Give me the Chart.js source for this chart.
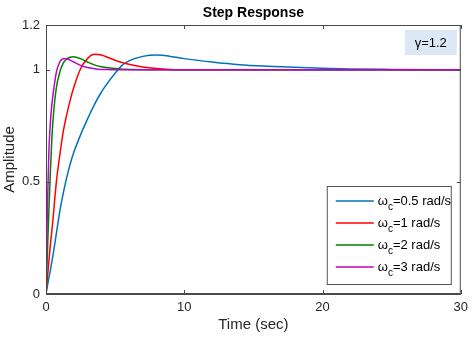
<!DOCTYPE html>
<html>
<head>
<meta charset="utf-8">
<script src="https://cdn.jsdelivr.net/npm/chart.js@4.4.1/dist/chart.umd.min.js"></script>
<style>
  html, body { margin: 0; padding: 0; background: #fff; }
  #wrap { width: 474px; height: 338px; }
</style>
</head>
<body>
<div id="wrap"><canvas id="stepChart"></canvas></div>
<script>
// time samples (sec)
const time = [0, 0.1, 0.2, 0.3, 0.4, 0.5, 0.75, 1, 1.25, 1.5, 1.75, 2, 2.5, 3, 3.5, 4, 4.5, 5, 5.5, 6, 7, 8, 9, 10, 12, 14, 16, 18, 20, 22, 25, 30];

// step responses
const wc05 = [0, 0.035, 0.07, 0.1, 0.135, 0.17, 0.27, 0.37, 0.45, 0.52, 0.58, 0.63, 0.71, 0.78, 0.845, 0.9, 0.945, 0.985, 1.02, 1.04, 1.06, 1.066, 1.06, 1.05, 1.035, 1.023, 1.016, 1.011, 1.007, 1.004, 1.002, 1.0];
const wc1 = [0, 0.07, 0.14, 0.21, 0.27, 0.33, 0.5, 0.62, 0.725, 0.8, 0.865, 0.92, 1.005, 1.05, 1.069, 1.066, 1.055, 1.043, 1.033, 1.025, 1.013, 1.006, 1.002, 1.0, 1.0, 1.0, 1.0, 1.0, 1.0, 1.0, 1.0, 1.0];
const wc2 = [0, 0.18, 0.36, 0.52, 0.66, 0.77, 0.92, 0.99, 1.03, 1.048, 1.056, 1.058, 1.05, 1.035, 1.022, 1.014, 1.009, 1.006, 1.003, 1.002, 1.0, 1.0, 1.0, 1.0, 1.0, 1.0, 1.0, 1.0, 1.0, 1.0, 1.0, 1.0];
const wc3 = [0, 0.38, 0.62, 0.75, 0.83, 0.885, 0.99, 1.035, 1.05, 1.05, 1.043, 1.035, 1.02, 1.01, 1.005, 1.002, 1.001, 1.0, 1.0, 1.0, 1.0, 1.0, 1.0, 1.0, 1.0, 1.0, 1.0, 1.0, 1.0, 1.0, 1.0, 1.0];

const rates = ['0.5', '1', '2', '3'];
const colors = ['#0072BD', '#FF0000', '#008000', '#C000C8'];
const series = [wc05, wc1, wc2, wc3];

const xTicks = [0, 10, 20, 30];
const yTicks = [0, 0.5, 1, 1.2];

const FONT = 'Liberation Sans, Arial, Helvetica, sans-serif';
const AXIS = '#4a4a4a';

// box, inward ticks, title, legend and gamma note (MATLAB look)
const matlabLook = {
  id: 'matlabLook',
  afterDraw(chart) {
    const ctx = chart.ctx;
    const a = chart.chartArea;
    const xs = chart.scales.x, ys = chart.scales.y;
    ctx.save();
    ctx.strokeStyle = AXIS;
    ctx.lineWidth = 1;
    ctx.strokeRect(a.left + 0.5, a.top + 0.5, a.right - a.left - 1, a.bottom - a.top - 1);
    ctx.beginPath();
    xTicks.forEach(v => {
      const px = Math.round(xs.getPixelForValue(v)) + 0.5;
      ctx.moveTo(px, a.bottom); ctx.lineTo(px, a.bottom - 4);
      ctx.moveTo(px, a.top); ctx.lineTo(px, a.top + 4);
    });
    yTicks.forEach(v => {
      const py = Math.round(ys.getPixelForValue(v)) + 0.5;
      ctx.moveTo(a.left, py); ctx.lineTo(a.left + 4, py);
      ctx.moveTo(a.right, py); ctx.lineTo(a.right - 4, py);
    });
    ctx.stroke();

    // title
    ctx.fillStyle = '#000';
    ctx.font = 'bold 14px ' + FONT;
    ctx.textAlign = 'center';
    ctx.textBaseline = 'middle';
    ctx.fillText('Step Response', (a.left + a.right) / 2, 13);

    // gamma note
    ctx.fillStyle = '#DDE8F6';
    ctx.fillRect(a.right - 56, a.top + 5, 52, 25);
    ctx.fillStyle = '#000';
    ctx.font = '13px ' + FONT;
    ctx.textAlign = 'center';
    ctx.fillText('\u03B3=1.2', a.right - 30, a.top + 18);

    // legend
    const lx = a.right - 134, ly = a.bottom - 108, lw = 124, lh = 98;
    ctx.fillStyle = '#fff';
    ctx.fillRect(lx, ly, lw, lh);
    ctx.strokeStyle = '#555';
    ctx.strokeRect(lx + 0.5, ly + 0.5, lw, lh);
    ctx.textAlign = 'left';
    rates.forEach((r, i) => {
      const y = ly + 15 + i * 22;
      ctx.strokeStyle = colors[i];
      ctx.lineWidth = 1.5;
      ctx.beginPath();
      ctx.moveTo(lx + 9, y); ctx.lineTo(lx + 47, y);
      ctx.stroke();
      ctx.fillStyle = '#000';
      ctx.font = '13px ' + FONT;
      let tx = lx + 51;
      ctx.fillText('\u03C9', tx, y);
      tx += ctx.measureText('\u03C9').width;
      ctx.font = '10px ' + FONT;
      ctx.fillText('c', tx, y + 6);
      tx += ctx.measureText('c').width;
      ctx.font = '13px ' + FONT;
      ctx.fillText('=' + r + ' rad/s', tx, y);
    });
    ctx.restore();
  }
};

const stepData = {
  datasets: series.map((vals, i) => ({
    label: '\u03C9c=' + rates[i] + ' rad/s',
    data: time.map((t, k) => ({ x: t, y: vals[k] })),
    borderColor: colors[i],
    backgroundColor: colors[i],
    borderWidth: 1.5,
    pointRadius: 0,
    fill: false,
    cubicInterpolationMode: 'monotone',
    order: 4 - i
  }))
};

const stepConfig = {
  type: 'line',
  data: stepData,
  options: {
    responsive: true,
    maintainAspectRatio: false,
    animation: false,
    layout: { padding: { top: 25, right: 8, left: 0, bottom: 0 } },
    plugins: {
      legend: { display: false },
      title: { display: false },
      tooltip: { enabled: false }
    },
    scales: {
      x: {
        type: 'linear',
        min: 0,
        max: 30,
        afterBuildTicks: s => { s.ticks = xTicks.map(v => ({ value: v })); },
        afterFit: s => { s.height = 44; },
        grid: { display: false, drawTicks: false },
        border: { color: AXIS },
        ticks: { color: '#262626', padding: 6, maxRotation: 0, font: { family: FONT, size: 13 } },
        title: { display: true, text: 'Time (sec)', color: '#262626', padding: { top: 0, bottom: 4 }, font: { family: FONT, size: 15 } }
      },
      y: {
        min: 0,
        max: 1.2,
        afterBuildTicks: s => { s.ticks = yTicks.map(v => ({ value: v })); },
        afterFit: s => { s.width = 46; },
        grid: { display: false, drawTicks: false },
        border: { color: AXIS },
        ticks: { color: '#262626', padding: 6, font: { family: FONT, size: 13 }, callback: v => String(v) },
        title: { display: true, text: 'Amplitude', color: '#262626', padding: { top: 1, bottom: 0 }, font: { family: FONT, size: 15 } }
      }
    }
  },
  plugins: [matlabLook]
};

const myStepChart = new Chart(document.getElementById('stepChart'), stepConfig);
</script>
</body>
</html>
